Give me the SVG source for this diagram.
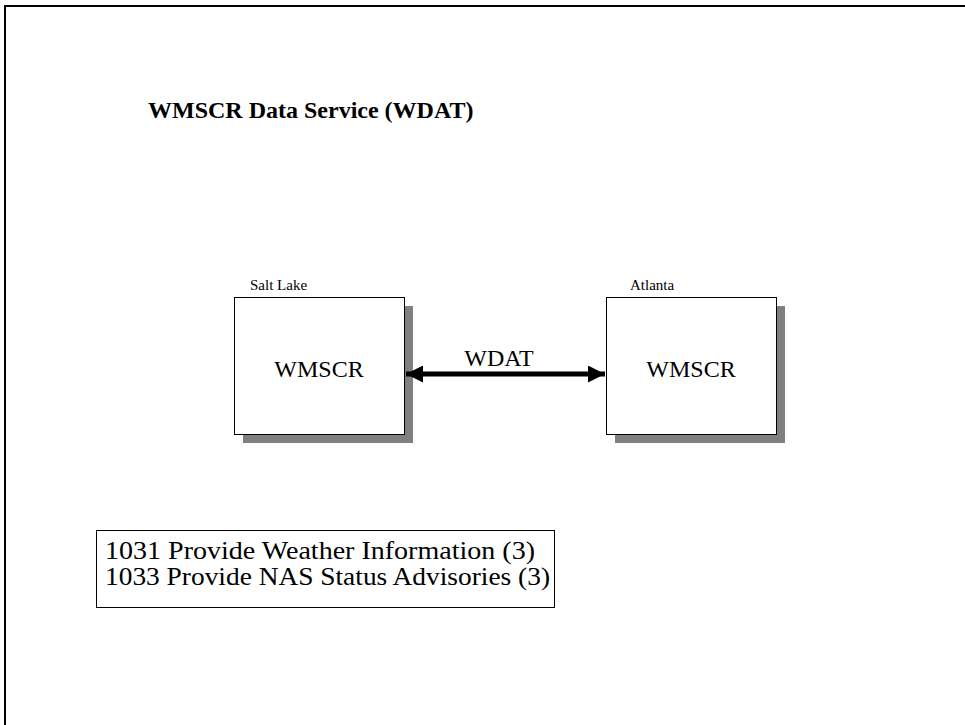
<svg xmlns="http://www.w3.org/2000/svg" width="965" height="725" viewBox="0 0 965 725">
<style>
text{font-family:"Liberation Serif","Times New Roman",serif;fill:#000}
.box{fill:#fff;stroke:#000;stroke-width:1}
.shadow{fill:#808080}
.big{font-size:24px}
.small{font-size:15px}
.leg{font-size:24.5px}
</style>
<defs>
<marker id="ah" viewBox="0 0 10 10" refX="10" refY="5" markerWidth="3.4" markerHeight="3.4" orient="auto-start-reverse" markerUnits="strokeWidth">
<path d="M0,0 L10,5 L0,10 Z" fill="#000"/>
</marker>
</defs>
<rect width="965" height="725" fill="#fff"/>
<path d="M5,725 V6 H965" fill="none" stroke="#000" stroke-width="2"/>
<text x="148" y="118" font-size="24" font-weight="bold">WMSCR Data Service (WDAT)</text>
<g id="saltlake">
<rect class="shadow" x="243" y="306" width="170" height="137"/>
<rect class="box" x="234.5" y="297.5" width="170" height="137"/>
<text class="small" x="250" y="290">Salt Lake</text>
<text class="big" x="319" y="377" text-anchor="middle">WMSCR</text>
</g>
<g id="atlanta">
<rect class="shadow" x="615" y="306" width="170" height="137"/>
<rect class="box" x="606.5" y="297.5" width="170" height="137"/>
<text class="small" x="630" y="290">Atlanta</text>
<text class="big" x="691" y="377" text-anchor="middle">WMSCR</text>
</g>
<g id="connectors">
<line x1="406" y1="374" x2="605" y2="374" stroke="#000" stroke-width="5" marker-start="url(#ah)" marker-end="url(#ah)"/>
<text class="big" x="499" y="366" text-anchor="middle">WDAT</text>
</g>
<g id="legend">
<rect class="box" x="96.5" y="530.5" width="458" height="77"/>
<text class="leg" x="105" y="559" textLength="430" lengthAdjust="spacingAndGlyphs">1031 Provide Weather Information (3)</text>
<text class="leg" x="105" y="585" textLength="445" lengthAdjust="spacingAndGlyphs">1033 Provide NAS Status Advisories (3)</text>
</g>
</svg>
